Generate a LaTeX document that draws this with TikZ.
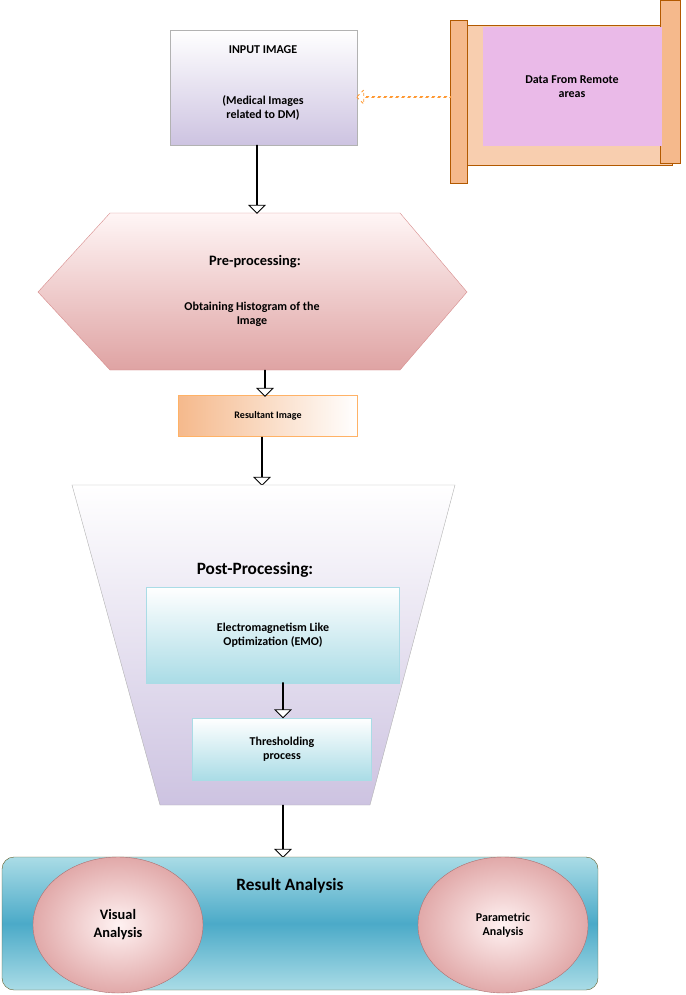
\documentclass[tikz,border=0pt]{standalone}
\usepackage{fontspec}
\setmainfont{Carlito}
\usetikzlibrary{shapes.arrows,shapes.geometric,positioning}

\definecolor{lav}{RGB}{205,195,225}
\definecolor{pinkish}{RGB}{215,140,140}
\definecolor{orng}{RGB}{245,185,140}
\definecolor{sky}{RGB}{170,220,230}
\definecolor{tealb}{RGB}{75,170,200}
\definecolor{mag}{RGB}{234,186,232}

\tikzset{
  box/.style={draw=gray!60,align=center,font=\bfseries},
  down/.style={single arrow,draw,thick,fill=white,shape border rotate=270,
    single arrow head extend=6pt,inner sep=0pt,minimum width=16pt},
  oval/.style={ellipse,draw=pinkish!80!black,inner color=pink!20,outer color=pinkish!75,
    minimum width=170pt,minimum height=136pt,align=center,font=\bfseries\Large}
}

\begin{document}
\begin{tikzpicture}[x=1pt,y=-1pt]
\useasboundingbox (0,0) rectangle (685,995);

% scroll
\path[draw=orange!70!black,fill=orng!70] (450,25) rectangle (672,165);
\path[draw=orange!70!black,fill=orng] (450,20) rectangle (467,183);
\path[draw=orange!70!black,fill=orng] (660,0) rectangle (680,163);
\node[fill=mag,minimum width=179pt,minimum height=119pt,align=center,font=\bfseries\large] (remote) at (572,87) {Data From Remote\\areas};

% input
\path[box,top color=white,bottom color=lav] (170,30) rectangle (357,145);
\node[font=\bfseries\large] (input) at (263,50) {INPUT IMAGE};
\node[align=center,font=\bfseries\large] (medical) at (263,108) {(Medical Images\\related to DM)};
\node[single arrow,draw=orange!80,dashed,thick,shape border rotate=180,minimum width=14pt,
  single arrow head extend=6pt,minimum height=94pt,inner sep=0pt] (dash) at (404,97) {};

% pre-processing
\path[draw=pinkish,top color=pink!15,bottom color=pinkish!80] (38,292) -- (110,213) -- (400,213)
  -- (467,292) -- (400,370) -- (110,370) -- cycle;
\node[font=\bfseries\Large] (pre) at (255,262) {Pre-processing:};
\node[align=center,font=\bfseries\large] (hist) at (252,314) {Obtaining Histogram of the\\Image};
\node[down,minimum height=68pt] (a1) at (257,179) {};

% resultant
\node[box,draw=orange!60,left color=orng,right color=white,
  minimum width=179pt,minimum height=41pt] (res) at (268,416) {Resultant Image};
\node[down,minimum height=26pt] (a2) at (265,383) {};
\node[down,minimum height=48pt] (a3) at (262,461) {};

% post-processing
\path[draw=gray!60,top color=white,bottom color=lav] (72,485) -- (455,485) -- (370,805) -- (160,805) -- cycle;
\node[font=\bfseries\LARGE] (post) at (255,570) {Post-Processing:};
\node[box,draw=sky,top color=white,bottom color=sky,minimum width=253pt,minimum height=96pt,
  font=\bfseries\large] (emo) at (273,635) {Electromagnetism Like\\Optimization (EMO)};
\node[box,draw=sky,top color=white,bottom color=sky,minimum width=179pt,minimum height=62pt,
  font=\bfseries\large] (thr) at (282,749) {Thresholding\\process};
\node[down,minimum height=35pt] (a4) at (283,700) {};
\node[down,minimum height=52pt] (a5) at (283,831) {};

% result analysis
\path[draw=olive!60!black,rounded corners=12pt,top color=sky,bottom color=sky,middle color=tealb]
  (2,857) rectangle (598,990);
\node[font=\bfseries\LARGE] (result) at (290,886) {Result Analysis};
\node[oval] (visual) at (118,925) {Visual\\Analysis};
\node[oval,font=\bfseries\large] (param) at (503,925) {Parametric\\Analysis};
\end{tikzpicture}
\end{document}
